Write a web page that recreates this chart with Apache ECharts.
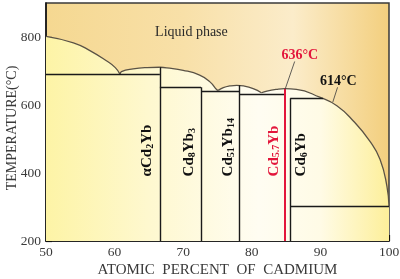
<!DOCTYPE html>
<html><head><meta charset="utf-8">
<script src="https://cdn.jsdelivr.net/npm/echarts@6/dist/echarts.min.js"></script>
<style>html,body{margin:0;padding:0;background:#fff}#c{width:400px;height:279px}</style>
</head><body><div id="c"></div>
<script>
// ---- data ----
const xTicks = [50, 60, 70, 80, 90, 100];
const yTicks = [200, 400, 600, 800];
// liquidus arcs [at% Cd, T °C]
const arcYbSide   = [[50,802],[54.0,783],[56.4,760],[58.8,730],[60.1,710],[60.8,690]];
const arcCd2Yb    = [[60.8,690],[61.0,698],[62.7,706],[64.7,710],[66.6,711]];
const arcCd8Yb3   = [[66.6,711],[67.6,709],[70.0,702],[72.4,688],[73.9,668],[74.9,645],[75.1,643]];
const arcCd51Yb14 = [[75.1,643],[75.85,651],[76.8,656],[77.8,658],[78.8,656],[80.2,648],[81.4,636]];
const arcCdSide   = [[81.4,636],[82.2,641],[83.6,646],[84.8,648],[86.5,646],[89.9,623],[92.4,598],[94.8,553],[97.2,494],[98.7,440],[99.7,361],[100,302]];
// invariant (horizontal) lines and compound (vertical) lines
const tieLines = [
  [[50,690],[66.6,690]],
  [[66.6,652],[72.6,652]],
  [[72.6,640],[78.2,640]],
  [[78.2,631],[84.8,631]],
  [[85.6,620],[90.4,620]],
  [[85.6,302],[100,302]]
];
const compoundLines = [
  [[66.6,200],[66.6,711]],
  [[72.6,200],[72.6,652]],
  [[78.2,200],[78.2,658]],
  [[85.6,200],[85.6,620]]
];
const redLine = [[84.8,200],[84.8,648]];
// labels
const compoundParts = [['αCd','2','Yb'],['Cd','8','Yb','3'],['Cd','51','Yb','14'],['Cd','5.7','Yb'],['Cd','6','Yb']];
const compoundX = [64.8, 70.9, 76.6, 83.2, 87.2];
const compoundRed = [false, false, false, true, false];
const compoundBaseT = 390;
const tempLabels = ['636°C', '614°C'];
const tempLabelPos = [[87.0, 745], [92.6, 669]];
const pointerLines = [
  [[86.25,728],[84.85,646]],
  [[92.5,652],[91.8,608]]
];
const liquidLabel = 'Liquid phase';
const liquidLabelPos = [71.2, 815];

// ---- chart ----
const FONT = '"Liberation Serif","Times New Roman",serif';
const RED = '#e3163c';
const G = echarts.graphic;
const chart = echarts.init(document.getElementById('c'), null, {renderer: 'canvas'});
const liquidFill = new G.LinearGradient(46, 0, 389, 0, [
  {offset: 0, color: '#f5d891'},
  {offset: 0.4, color: '#f8e0a8'},
  {offset: 0.72, color: '#fbecca'},
  {offset: 1, color: '#f3cf7e'}
], true);
const solidFill = new G.LinearGradient(46, 0, 389, 0, [
  {offset: 0, color: '#fdf4a6'},
  {offset: 0.3, color: '#fef8cf'},
  {offset: 0.62, color: '#fffdf2'},
  {offset: 0.8, color: '#fffbe6'},
  {offset: 1, color: '#fdef9a'}
], true);

const arcs = [arcYbSide, arcCd2Yb, arcCd8Yb3, arcCd51Yb14, arcCdSide];
const allPts = [];
arcs.forEach((a, i) => a.forEach((p, j) => { if (i === 0 || j > 0) allPts.push(p); }));

const series = [];
series.push({
  type: 'line', data: allPts, smooth: false, symbol: 'none', z: 1, silent: true,
  lineStyle: {width: 0, opacity: 0},
  areaStyle: {color: solidFill, opacity: 1, origin: 'start'}
});
arcs.forEach(a => series.push({
  type: 'line', data: a, smooth: 0.5, symbol: 'none', z: 2, silent: true,
  lineStyle: {color: '#5a5245', width: 1.3},
  areaStyle: {color: solidFill, opacity: 1, origin: 'start'}
}));
series.push({
  type: 'lines', coordinateSystem: 'cartesian2d', z: 3, silent: true,
  data: tieLines.concat(compoundLines).map(c => ({coords: c})),
  lineStyle: {color: '#1a1a1a', width: 1.4, opacity: 1}
});
series.push({
  type: 'lines', coordinateSystem: 'cartesian2d', z: 4, silent: true,
  data: [{coords: redLine}],
  lineStyle: {color: RED, width: 2, opacity: 1}
});
series.push({
  type: 'lines', coordinateSystem: 'cartesian2d', z: 4, silent: true,
  data: pointerLines.map(c => ({coords: c})),
  lineStyle: {color: '#3a3a3a', width: 0.8, opacity: 1}
});

chart.setOption({
  animation: false,
  grid: {left: 46, right: 11, top: 3, bottom: 38, containLabel: false, outerBoundsMode: 'none',
    show: true, backgroundColor: liquidFill, borderColor: '#3a3a3a', borderWidth: 1.5},
  xAxis: {
    type: 'value', min: xTicks[0], max: xTicks[xTicks.length - 1], interval: 10,
    name: 'ATOMIC  PERCENT  OF  CADMIUM', nameLocation: 'middle', nameGap: 22, nameMoveOverlap: false,
    nameTextStyle: {fontFamily: FONT, fontSize: 15, color: '#3a3a3a'},
    axisLine: {lineStyle: {color: '#111', width: 1.5}},
    axisTick: {inside: true, length: 6, lineStyle: {color: '#111', width: 1.2}},
    axisLabel: {fontFamily: FONT, fontSize: 13.5, color: '#3a3a3a', margin: 4},
    splitLine: {show: false}
  },
  yAxis: {
    type: 'value', min: yTicks[0], max: 900, interval: 200,
    name: 'TEMPERATURE(°C)', nameLocation: 'middle', nameGap: 27, nameRotate: 90, nameMoveOverlap: false,
    nameTextStyle: {fontFamily: FONT, fontSize: 14, color: '#3a3a3a', padding: [0, 12, 0, 0]},
    axisLine: {lineStyle: {color: '#111', width: 1.5}},
    axisTick: {inside: true, length: 6, lineStyle: {color: '#111', width: 1.2}},
    axisLabel: {fontFamily: FONT, fontSize: 13.5, color: '#3a3a3a', margin: 5, showMaxLabel: false,
      formatter: v => yTicks.indexOf(v) >= 0 ? String(v) : ''},
    splitLine: {show: false}
  },
  series: series
});

function px(p) { return chart.convertToPixel({gridIndex: 0}, p); }
const graphics = [];
compoundParts.forEach((parts, i) => {
  const col = compoundRed[i] ? RED : '#111';
  let str = '';
  parts.forEach((t, k) => { str += (k % 2 === 0 ? '{n|' : '{s|') + t + '}'; });
  const p = px([compoundX[i], compoundBaseT]);
  graphics.push({
    type: 'text', x: p[0], y: p[1], rotation: Math.PI / 2, z: 10, silent: true,
    style: {
      text: str, align: 'left', verticalAlign: 'middle',
      rich: {
        n: {fontFamily: FONT, fontSize: 15, fontWeight: 'bold', fill: col, color: col, lineHeight: 16},
        s: {fontFamily: FONT, fontSize: 10, fontWeight: 'bold', fill: col, color: col, lineHeight: 8, verticalAlign: 'bottom'}
      }
    }
  });
});
tempLabels.forEach((t, i) => {
  const p = px(tempLabelPos[i]);
  graphics.push({type: 'text', x: p[0], y: p[1], z: 10, silent: true,
    style: {text: t, fill: i === 0 ? RED : '#111', font: 'bold 14px ' + FONT, align: 'center', verticalAlign: 'middle'}});
});
const lp = px(liquidLabelPos);
graphics.push({type: 'text', x: lp[0], y: lp[1], z: 10, silent: true,
  style: {text: liquidLabel, fill: '#2a2a2a', font: '14px ' + FONT, align: 'center', verticalAlign: 'middle'}});
chart.setOption({graphic: graphics});
</script></body></html>
